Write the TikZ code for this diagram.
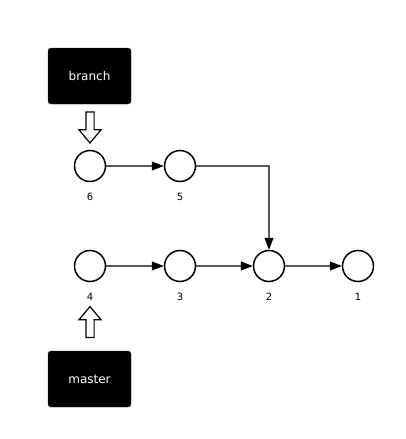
\documentclass[tikz,border=0pt]{standalone}
\usepackage{fontspec}
\setmainfont{DejaVu Sans}
\usepackage{tikz}
\usetikzlibrary{arrows.meta}
\usetikzlibrary{shapes.arrows}

\tikzset{
  commit/.style={circle,draw=black,line width=1.5pt,minimum size=31pt,inner sep=0pt,
    label={[inner sep=0pt,label distance=11pt,font=\fontsize{10}{11}\selectfont]below:#1}},
  refbox/.style={rectangle,rounded corners=3pt,fill=black,draw=black!80,
    minimum width=83pt,minimum height=56pt,text=white,font=\fontsize{12}{14}\selectfont},
  pointer/.style={single arrow,draw=black,line width=1.2pt,fill=white,inner sep=3.5pt,
    minimum width=21pt,single arrow head extend=7pt,single arrow tip angle=80,
    minimum height=31pt},
  edge/.style={draw=black!65,line width=1.2pt,-{Triangle[length=12pt,width=9pt,black]}}
}

\begin{document}
\begin{tikzpicture}[x=1pt,y=-1pt]
    \useasboundingbox (0,0) rectangle (406,439);
    \node[refbox] (branch) at (89.5,76) {branch};
    \node[refbox] (master) at (89.5,379) {master};
    % commits
    \node[commit=6] (c6) at (90,166) {};
    \node[commit=5] (c5) at (180,166) {};
    \node[commit=4] (c4) at (90,266) {};
    \node[commit=3] (c3) at (180,266) {};
    \node[commit=2] (c2) at (269,266) {};
    \node[commit=1] (c1) at (358,266) {};
    % refs
    \node[pointer,rotate=-90] (pb) at (90,125) {};
    \node[pointer,rotate=90] (pm) at (90,324.5) {};
    % history
    \draw[edge] (c6) -- (c5);
    \draw[edge] (c5.east) -| (c2.north);
    \draw[edge] (c4) -- (c3);
    \draw[edge] (c3) -- (c2);
    \draw[edge] (c2) -- (c1);
  \end{tikzpicture}
\end{document}
